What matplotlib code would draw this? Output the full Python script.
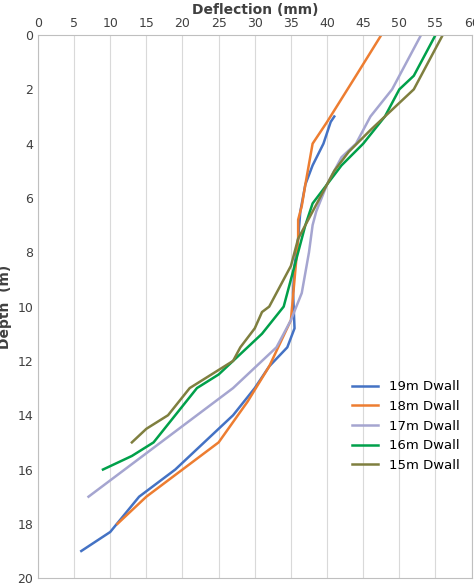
import matplotlib.pyplot as plt

# deflection (mm) vs depth (m) for each wall length
d19_x = [6, 10, 14, 19, 23, 27, 30, 32, 34.5, 35.5, 35.3, 35.5, 36, 36.3, 37, 38, 39.5, 40.5, 41]
d19_y = [19, 18.3, 17, 16, 15, 14, 13, 12.2, 11.5, 10.8, 9.5, 8.5, 7.5, 6.5, 5.5, 4.8, 4, 3.2, 3]
d18_x = [11, 15, 20, 25, 29, 32, 35, 35.5, 36, 36, 36.5, 37, 38, 40, 44, 47.5]
d18_y = [18, 17, 16, 15, 13.5, 12.2, 10.5, 9, 7.5, 6.8, 6.3, 5.5, 4, 3.2, 1.5, 0]
d17_x = [7, 12, 17, 22, 27, 31, 33, 35, 36.5, 37.5, 38, 38.5, 40, 42, 44, 46, 49, 51, 53]
d17_y = [17, 16, 15, 14, 13, 12, 11.5, 10.5, 9.5, 8, 7, 6.5, 5.5, 4.5, 4, 3, 2, 1, 0]
d16_x = [9, 13, 16, 19, 22, 25, 29, 31, 34, 35, 36, 37, 38, 40, 42, 45, 48, 50, 52, 54, 55]
d16_y = [16, 15.5, 15, 14, 13, 12.5, 11.5, 11, 10, 9, 8, 7, 6.2, 5.5, 4.8, 4, 3, 2, 1.5, 0.5, 0]
d15_x = [13, 15, 18, 21, 24, 27, 28, 30, 31, 32, 34, 35, 36, 37, 38, 39, 41, 43, 46, 50, 52, 54, 56]
d15_y = [15, 14.5, 14, 13, 12.5, 12, 11.5, 10.8, 10.2, 10, 9, 8.5, 7.5, 7, 6.5, 6, 5, 4.3, 3.5, 2.5, 2, 1, 0]

series = [
	('19m Dwall', d19_x, d19_y, '#4472c4'),
	('18m Dwall', d18_x, d18_y, '#ed7d31'),
	('17m Dwall', d17_x, d17_y, '#a5a5d0'),
	('16m Dwall', d16_x, d16_y, '#00a04a'),
	('15m Dwall', d15_x, d15_y, '#7f7f3f'),
]

fig, ax = plt.subplots(figsize=(4.74, 5.84), dpi=100)
for label, xs, ys, color in series:
	ax.plot(xs, ys, color=color, linewidth=1.8, label=label)

ax.set_xlim(0, 60)
ax.set_ylim(20, 0)
ax.set_xticks(range(0, 61, 5))
ax.set_yticks(range(0, 21, 2))
ax.xaxis.tick_top()
ax.xaxis.set_label_position('top')
ax.set_xlabel('Deflection (mm)', fontweight='bold', color='#404040', labelpad=2)
ax.set_ylabel('Depth  (m)', fontweight='bold', color='#404040')
ax.tick_params(labelsize=9, colors='#404040', length=0)
ax.grid(True, axis='x', color='#d9d9d9')
for s in ax.spines.values():
	s.set_color('#bfbfbf')
ax.legend(loc='center right', bbox_to_anchor=(1.0, 0.28), frameon=False, fontsize=9.5)

plt.subplots_adjust(left=0.08, right=0.995, top=0.94, bottom=0.01)
fig.savefig('out.png', dpi=100)
